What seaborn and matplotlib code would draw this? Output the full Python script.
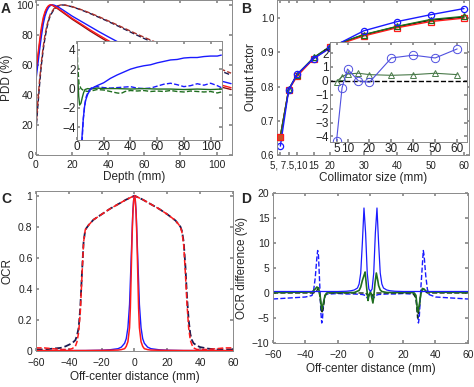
import numpy as np
import pandas as pd
import matplotlib
matplotlib.use('Agg')
import matplotlib.pyplot as plt
import seaborn as sns

# ---- Panel A: PDD curves ----
depth_solid = [0, 1, 2, 3, 4, 5, 6, 7, 8, 9, 10, 12, 15, 20, 25, 30, 35, 40, 45, 50, 60, 70, 80, 90, 100, 108]
pdd_red = [57, 66, 76, 85, 91.5, 95.5, 98, 99.5, 100, 99.8, 99.2, 97.8, 95.3, 91, 87.2, 83.3, 79.7, 76.2, 72.9, 69.9, 64.5, 59.6, 55, 51, 47.4, 44.8]
pdd_darkred = [55, 64, 74, 83, 90, 94.5, 97.5, 99.2, 99.9, 99.7, 99, 97.4, 94.8, 90.4, 86.5, 82.5, 78.8, 75.2, 71.9, 68.8, 63.3, 58.3, 53.7, 49.7, 46, 43.6]
pdd_blue = [50, 60, 70, 79, 87, 92.5, 96, 98.3, 99.5, 100, 99.8, 98.8, 96.5, 92.5, 89, 85.5, 82, 78.7, 75.5, 72.5, 67, 62, 57.5, 53.5, 50, 47.5]
depth_dash = [0, 1, 2, 3, 4, 5, 6, 7, 8, 10, 12, 14, 16, 20, 25, 30, 35, 40, 45, 50, 55, 60, 70, 80, 90, 100, 108]
pdd_dash_brown = [18, 35, 50, 62, 72, 80, 86, 90.5, 94, 97.5, 99.3, 100, 99.8, 98.8, 96.8, 94.5, 92, 89.3, 86.6, 83.8, 81, 78.3, 73.2, 68.2, 63.2, 58.3, 54.5]
pdd_dash_dark = [16, 32, 47, 60, 70, 78, 84.5, 89.5, 93, 97, 99, 99.9, 99.8, 98.7, 96.6, 94.2, 91.6, 88.9, 86.1, 83.2, 80.3, 77.5, 72.2, 67, 62, 57, 53.2]

# inset A: PDD differences (%)
ia_blue_x = [3.5, 4.5, 5.5, 6.5, 8, 10, 12, 15, 20, 25, 30, 35, 40, 45, 50, 55, 60, 65, 70, 75, 80, 85, 90, 95, 100, 105, 108]
ia_blue_y = [-5.5, -3.5, -2.0, -1.2, -0.6, -0.1, 0.1, 0.3, 0.6, 1.05, 1.4, 1.7, 2.0, 2.2, 2.35, 2.45, 2.65, 2.8, 2.95, 3.0, 3.15, 3.2, 3.2, 3.3, 3.35, 3.35, 3.45]
ia_bluedash_x = [3.8, 4.8, 6, 7, 8.5, 10, 12, 15, 20, 25, 30, 35, 40, 45, 50, 55, 60, 65, 70, 75, 80, 85, 90, 95, 100, 105, 108]
ia_bluedash_y = [-5.5, -3, -1.5, -0.8, -0.3, 0.0, 0.15, 0.2, 0.1, 0.05, 0.1, 0.15, 0.2, 0.05, 0.0, 0.05, 0.25, 0.45, 0.55, 0.4, 0.2, 0.3, 0.5, 0.35, 0.55, 0.3, 0.1]
ia_green_x = [0, 0.3, 0.8, 1.3, 2, 3, 4, 5, 6, 8, 10, 15, 20, 30, 40, 50, 60, 70, 80, 90, 100, 108]
ia_green_y = [-5.5, 1.0, 0.5, -0.8, -1.7, -1.5, -0.9, -0.4, -0.1, 0.0, -0.05, 0.05, 0.0, 0.0, -0.05, 0.0, -0.05, -0.05, -0.1, -0.05, -0.1, -0.05]
ia_greendash_x = [0, 0.5, 1.5, 3, 5, 8, 12, 15, 20, 25, 30, 33, 36, 40, 45, 50, 55, 60, 65, 70, 75, 80, 85, 90, 95, 100, 105, 108]
ia_greendash_y = [5.5, 2.5, 0.5, 0.0, -0.2, -0.3, -0.2, -0.1, -0.15, -0.3, -0.45, -0.5, -0.3, -0.2, -0.25, -0.2, -0.3, -0.25, -0.3, -0.2, -0.3, -0.35, -0.25, -0.3, -0.35, -0.3, -0.45, -0.35]

# ---- Panel B: output factors ----
coll_size = [5, 7.5, 10, 15, 20, 30, 40, 50, 60]
of_black = [0.654, 0.791, 0.834, 0.884, 0.917, 0.951, 0.975, 0.994, 1.003]
of_red = [0.654, 0.790, 0.830, 0.882, 0.915, 0.948, 0.972, 0.990, 1.000]
of_green = [0.654, 0.792, 0.835, 0.885, 0.918, 0.952, 0.976, 0.996, 1.005]
of_blue = [0.626, 0.790, 0.836, 0.882, 0.913, 0.963, 0.990, 1.010, 1.028]
diff_blue = [-4.3, -0.5, 0.85, 0.0, -0.1, 1.65, 1.85, 1.65, 2.3]
diff_green = [-0.05, 0.3, 0.5, 0.55, 0.45, 0.4, 0.45, 0.55, 0.45]
b_tick_pos = [5, 7.5, 10, 15, 20, 30, 40, 50, 60]
b_tick_lab = ['', '5, 7.5,10', '', '15', '20', '30', '40', '50', '60']

# ---- Panel C: OCR profiles ----
c_wide_x = [-60, -55, -50, -45, -42, -40, -38, -36, -35, -34, -33, -32, -31, -30, -28, -25, -20, -15, -10, -5, -2, 0,
            2, 5, 10, 15, 20, 25, 28, 29, 30, 31, 32, 33, 34, 35, 36, 38, 40, 45, 50, 55, 60]
c_wide_navy = [0.01, 0.01, 0.015, 0.02, 0.03, 0.04, 0.05, 0.07, 0.1, 0.15, 0.28, 0.5, 0.7, 0.78, 0.81, 0.845, 0.88, 0.915, 0.945, 0.975, 0.99, 1.0,
               0.99, 0.975, 0.945, 0.915, 0.88, 0.84, 0.8, 0.77, 0.7, 0.55, 0.35, 0.2, 0.11, 0.07, 0.05, 0.035, 0.025, 0.015, 0.01, 0.01, 0.01]
c_wide_red = [0.02, 0.02, 0.015, 0.01, 0.01, 0.01, 0.015, 0.03, 0.06, 0.12, 0.25, 0.48, 0.7, 0.78, 0.81, 0.845, 0.88, 0.915, 0.945, 0.975, 0.99, 1.0,
              0.99, 0.975, 0.945, 0.915, 0.88, 0.84, 0.8, 0.76, 0.68, 0.5, 0.3, 0.15, 0.07, 0.04, 0.02, 0.01, 0.01, 0.01, 0.015, 0.02, 0.02]
c_narrow_x = [-60, -30, -20, -15, -10, -8, -6, -5, -4, -3, -2.5, -2, -1.5, -1, -0.5, 0, 0.5, 1, 1.5, 2, 2.5, 3, 4, 5, 6, 8, 10, 15, 20, 30, 60]
c_narrow_red = [0.003, 0.003, 0.004, 0.005, 0.006, 0.009, 0.015, 0.03, 0.06, 0.15, 0.28, 0.5, 0.72, 0.88, 0.97, 1.0, 0.97, 0.88, 0.72, 0.5, 0.28, 0.15, 0.06, 0.03, 0.015, 0.009, 0.006, 0.005, 0.004, 0.003, 0.003]
c_narrow_blue = [0.002, 0.003, 0.005, 0.008, 0.015, 0.025, 0.05, 0.08, 0.15, 0.3, 0.45, 0.6, 0.75, 0.9, 0.97, 1.0, 0.97, 0.9, 0.75, 0.6, 0.45, 0.3, 0.15, 0.08, 0.05, 0.025, 0.015, 0.008, 0.005, 0.003, 0.002]

# ---- Panel D: OCR differences (%) ----
d_blue_x = [-60, -40, -30, -20, -15, -12, -10, -8, -7, -6, -5, -4, -3, -2, -1, 0, 1, 2, 3, 4, 5, 6, 7, 8, 10, 12, 15, 20, 30, 40, 60]
d_blue_y = [0.3, 0.3, 0.3, 0.3, 0.35, 0.45, 0.6, 1.0, 1.8, 4, 10, 17, 12, 4, 0.8, 0.3, 0.8, 4, 12, 17, 10, 4, 1.8, 1.0, 0.6, 0.45, 0.35, 0.3, 0.3, 0.3, 0.3]
d_green_x = [-60, -36, -34, -33, -32, -31, -30, -29, -28, -27, -25, -10, -7, -6, -5, -4, -3.3, -2.5, -1.5, -1, 0, 0.5, 1.5, 2, 2.8, 3.6, 4.5, 5, 6, 7, 10,
             25, 27, 28, 29, 30, 31, 32, 33, 34, 36, 60]
d_green_y = [0.1, 0.2, 0.8, 1.2, 1.0, -0.5, -3.3, -2.0, -0.5, 0, 0.1, 0.1, 0.5, 1.2, 2.5, 3.5, 4.2, 1.5, -1.5, -0.5, 0.3, -0.5, -2.0, -0.8, 2.0, 4.0, 2.5, 1.5, 0.6, 0.3, 0.1,
             0.1, 0, -0.5, -3.8, -2.5, -0.2, 0.9, 0.8, 0.4, 0.2, 0.1]
d_bluedash_x = [-60, -50, -40, -36, -35, -34, -33, -32.5, -32, -31, -30.5, -30, -29.5, -29, -28, -27, -25, -20, -15, -10, -5, -3, -2, -1, 0, 1, 2, 3, 5,
                10, 15, 20, 25, 27, 28, 29, 29.5, 30, 30.5, 31, 32, 32.5, 33, 34, 35, 36, 40, 50, 60]
d_bluedash_y = [-1.2, -1.0, -0.8, -0.5, 0.5, 3, 7, 8.5, 7.5, 0, -4, -6, -5, -2.5, -0.5, -0.2, -0.2, -0.1, -0.2, -0.2, -0.3, -0.5, -1.0, -0.6, -0.3, -0.6, -1.0, -0.5, -0.3,
                -0.2, -0.2, -0.1, -0.2, -0.3, -1.0, -4, -6, -5, -2, 1, 6, 8.5, 7.5, 3.5, 0.8, -0.3, -0.8, -1.0, -1.2]
d_dark_x = [-60, -35, -33, -32, -31, -30, -29, -28, -26, -10, -3, -1.5, 0, 1.5, 3, 10, 26, 28, 29, 30, 31, 32, 33, 35, 60]
d_dark_y = [0, 0, 0.5, 1.0, -1, -4, -3, -0.5, 0, 0, 0, -0.5, 0, -0.5, 0, 0, 0, -1, -5, -3, 0, 0.8, 0.5, 0, 0]

sns.set_theme(style='ticks')
plt.rcParams['font.family'] = ['Liberation Sans', 'DejaVu Sans']
plt.rcParams['xtick.direction'] = 'in'
plt.rcParams['ytick.direction'] = 'in'
plt.rcParams['xtick.top'] = True
plt.rcParams['ytick.right'] = True
plt.rcParams['axes.edgecolor'] = '#8a8a8a'
plt.rcParams['xtick.color'] = '#8a8a8a'
plt.rcParams['ytick.color'] = '#8a8a8a'
plt.rcParams['xtick.labelcolor'] = '#222222'
plt.rcParams['ytick.labelcolor'] = '#222222'
plt.rcParams['xtick.major.size'] = 2.5
plt.rcParams['ytick.major.size'] = 2.5
plt.rcParams['axes.linewidth'] = 0.7

BLUE = '#1a1aff'
RED = '#ff1a1a'
DRED = '#8b1010'
BROWN = '#a8302a'
GREEN = '#1f6e1f'
NAVY = '#1a1a50'


def line(ax, x, y, color, ls='-', lw=1.0, **kw):
    sns.lineplot(x=x, y=y, ax=ax, color=color, linestyle=ls, lw=lw, estimator=None, sort=False, **kw)


fig = plt.figure(figsize=(4.74, 3.87), dpi=100)
tick_fs = 7.5
lab_fs = 8.5

# Panel A
axA = fig.add_axes([0.0759, 0.5995, 0.4135, 0.4005])
line(axA, depth_dash, pdd_dash_dark, NAVY, '--')
line(axA, depth_dash, pdd_dash_brown, BROWN, '--')
line(axA, depth_solid, pdd_darkred, DRED)
line(axA, depth_solid, pdd_blue, BLUE)
line(axA, depth_solid, pdd_red, RED)
axA.set_xlim(0, 108.5)
axA.set_ylim(0, 103.2)
axA.set_xticks(range(0, 101, 20))
axA.set_yticks(range(0, 101, 20))
axA.tick_params(labelsize=tick_fs, pad=2)
axA.tick_params(axis='x', pad=3.5)
axA.set_xlabel('Depth (mm)', fontsize=lab_fs, labelpad=1)
axA.set_ylabel('PDD (%)', fontsize=lab_fs, labelpad=2)

insA = fig.add_axes([0.1624, 0.6382, 0.3059, 0.2558])
line(insA, ia_greendash_x, ia_greendash_y, GREEN, '--')
line(insA, ia_bluedash_x, ia_bluedash_y, BLUE, '--')
line(insA, ia_green_x, ia_green_y, GREEN)
line(insA, ia_blue_x, ia_blue_y, BLUE)
insA.set_xlim(0, 108.5)
insA.set_ylim(-5.3, 4.9)
insA.set_xticks(range(0, 101, 20))
insA.set_yticks([-4, -2, 0, 2, 4])
insA.tick_params(labelsize=8.5, pad=1)

# Panel B
axB = fig.add_axes([0.5844, 0.5995, 0.4051, 0.4005])
line(axB, coll_size, of_black, 'black')
line(axB, coll_size, of_red, RED, marker='s', markersize=4.5, markerfacecolor='none', markeredgecolor=RED, markeredgewidth=0.9)
line(axB, coll_size, of_green, GREEN, marker='^', markersize=4.5, markerfacecolor='none', markeredgecolor=GREEN, markeredgewidth=0.9)
line(axB, coll_size, of_blue, BLUE, marker='o', markersize=4.5, markerfacecolor='none', markeredgecolor=BLUE, markeredgewidth=0.9)
sns.scatterplot(x=coll_size[:1], y=of_red[:1], ax=axB, marker='s', s=22, color='#c8502a', edgecolor=RED, linewidth=0.8, zorder=3)
axB.set_xlim(4, 61.5)
axB.set_ylim(0.6, 1.053)
axB.set_xticks(b_tick_pos)
axB.set_xticklabels(b_tick_lab)
axB.set_yticks([0.6, 0.7, 0.8, 0.9, 1.0])
axB.set_yticklabels(['0.6', '0.7', '0.8', '0.9', '1.0'])
axB.tick_params(labelsize=7, pad=2)
axB.tick_params(axis='x', pad=4)
axB.set_xlabel('Collimator size (mm)', fontsize=lab_fs, labelpad=1)
axB.set_ylabel('Output factor', fontsize=lab_fs, labelpad=3)

insB = fig.add_axes([0.6962, 0.6331, 0.289, 0.2584])
insB.axhline(0, color='black', lw=1.0, ls='--', zorder=1)
line(insB, coll_size, diff_green, '#4a7a4a', lw=0.8, marker='^', markersize=5, markerfacecolor='none', markeredgecolor='#4a7a4a', markeredgewidth=0.7)
line(insB, coll_size, diff_blue, '#5050e0', lw=0.8, marker='o', markersize=6, markerfacecolor='none', markeredgecolor='#5050e0', markeredgewidth=0.7)
insB.set_xlim(2, 64.5)
insB.set_ylim(-4.4, 2.8)
insB.set_xticks([5, 10, 20, 30, 40, 50, 60])
insB.set_yticks([-4, -3, -2, -1, 0, 1, 2])
insB.tick_params(labelsize=8.5, pad=1)

# Panel C
axC = fig.add_axes([0.0759, 0.0930, 0.4156, 0.4134])
line(axC, c_wide_x, c_wide_navy, NAVY, '--', lw=1.3)
line(axC, c_wide_x, c_wide_red, RED, '--', lw=1.1)
line(axC, c_narrow_x, c_narrow_blue, BLUE, lw=1.0)
line(axC, c_narrow_x, c_narrow_red, RED, lw=1.1)
axC.set_xlim(-60, 60)
axC.set_ylim(0, 1.03)
axC.set_xticks(range(-60, 61, 20))
axC.set_yticks([0, 0.2, 0.4, 0.6, 0.8, 1.0])
axC.set_yticklabels(['0', '0.2', '0.4', '0.6', '0.8', '1'])
axC.tick_params(labelsize=tick_fs, pad=2.5)
axC.tick_params(axis='x', pad=5)
axC.set_xlabel('Off-center distance (mm)', fontsize=lab_fs, labelpad=2)
axC.set_ylabel('OCR', fontsize=lab_fs, labelpad=3)

# Panel D
axD = fig.add_axes([0.5759, 0.1137, 0.4114, 0.3876])
line(axD, d_bluedash_x, d_bluedash_y, BLUE, '--', lw=1.0)
line(axD, d_dark_x, d_dark_y, '#153015', '--', lw=1.0)
line(axD, d_green_x, d_green_y, GREEN, lw=1.2)
line(axD, d_blue_x, d_blue_y, BLUE, lw=0.9)
axD.set_xlim(-60, 60)
axD.set_ylim(-10, 20)
axD.set_xticks(range(-60, 61, 20))
axD.set_yticks(range(-10, 21, 5))
axD.tick_params(labelsize=tick_fs, pad=2.5)
axD.tick_params(axis='x', pad=5)
axD.set_xlabel('Off-center distance (mm)', fontsize=lab_fs, labelpad=2)
axD.set_ylabel('OCR difference (%)', fontsize=lab_fs, labelpad=3)

for txt, xx, yy in [('A', 0.002, 0.995), ('B', 0.508, 0.995), ('C', 0.002, 0.505), ('D', 0.508, 0.505)]:
    fig.text(xx, yy, txt, fontsize=10, fontweight='bold', va='top', ha='left')

fig.savefig('out.png', dpi=100)
